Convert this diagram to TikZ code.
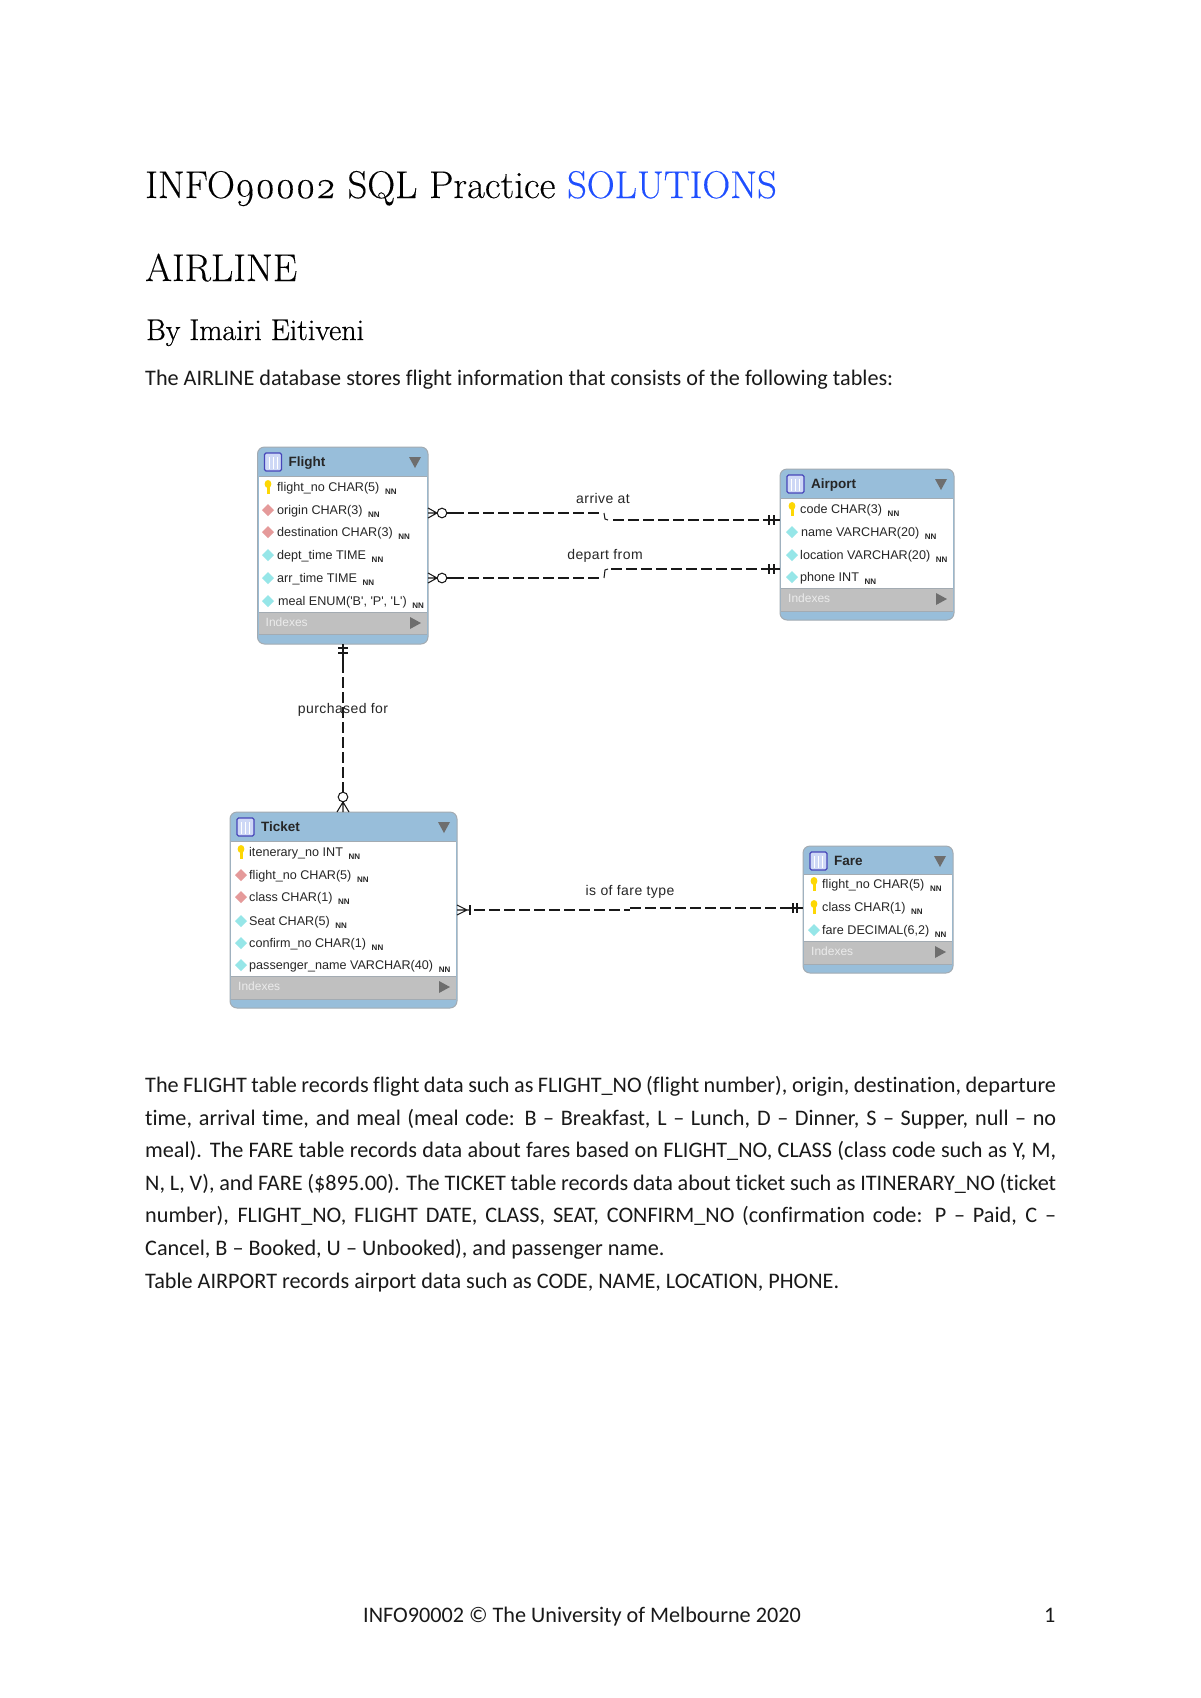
\documentclass[tikz,border=0pt]{standalone}
\usepackage{fontspec}
\setmainfont{Carlito}[Ligatures=NoCommon]
\newfontfamily\headfont{Latin Modern Roman}[Numbers=OldStyle,FakeBold=0.25]
\newfontfamily\byfont{Latin Modern Roman}[FakeBold=0.7]
\newfontfamily\erfont{Liberation Sans}
\newfontfamily\lblfont{Liberation Sans}[LetterSpace=3]
\definecolor{hdr}{HTML}{98BEDA}
\definecolor{idx}{HTML}{C0C0C0}
\definecolor{edge}{HTML}{A3ABB2}
\definecolor{tri}{HTML}{6E6E6E}
\definecolor{solblue}{HTML}{1F4FFF}
\tikzset{
  x=1pt,y=-1pt,
  ertable/.style={draw=edge,line width=1pt,fill=hdr,rounded corners=7pt,inner sep=0pt,outer sep=0pt,anchor=north west},
  rowtext/.style={anchor=base west,inner sep=0pt,font=\erfont\fontsize{12.6}{14}\selectfont,text=black!85},
  titletext/.style={anchor=base west,inner sep=0pt,font=\erfont\bfseries\fontsize{13.5}{15}\selectfont,text=black!85},
  idxtext/.style={anchor=base west,inner sep=0pt,font=\erfont\fontsize{12}{14}\selectfont,text=white!92!black},
  linklabel/.style={anchor=base,inner sep=0pt,font=\lblfont\fontsize{14}{16}\selectfont,text=black!85},
  conn/.style={draw=black!90,line width=1.05pt,dash pattern=on 11pt off 4pt},
  connsolid/.style={draw=black!90,line width=1.05pt},
  heading/.style={anchor=base west,inner sep=0pt,font=\headfont\fontsize{38.7}{44}\selectfont},
  byline/.style={anchor=base west,inner sep=0pt,font=\byfont\fontsize{30}{34}\selectfont},
  bodyline/.style={anchor=base west,inner sep=0pt,font=\fontsize{22.2}{26}\selectfont,text=black!90},
}
% name, left, top, right, bottom, header bottom, rows bottom, indexes bottom, title
\newcommand{\erbox}[9]{%
  \node[ertable,minimum width={(#4-#2)*1pt},minimum height={(#5-#3)*1pt}] (#1) at (#2,#3) {};
  \fill[white] (#2+1,#6) rectangle (#4-1,#7);
  \fill[idx] (#2+1,#7) rectangle (#4-1,#8);
  \draw[edge,line width=1pt] (#2+1,#6) -- (#4-1,#6) (#2+1,#7) -- (#4-1,#7) (#2+1,#8) -- (#4-1,#8);
  % table icon
  \draw[fill=blue!12!white!75!hdr,draw=blue!45!gray,line width=1.1pt,rounded corners=1.5pt] (#2+7,#3+6) rectangle (#2+24,#3+24);
  \draw[white,line width=0.8pt] (#2+11.5,#3+10) -- (#2+11.5,#3+22) (#2+15.5,#3+10) -- (#2+15.5,#3+22) (#2+19.5,#3+10) -- (#2+19.5,#3+22);
  % collapse triangles
  \fill[tri] (#4-19,#3+10) -- (#4-7,#3+10) -- (#4-13,#3+21) -- cycle;
  \fill[tri] (#4-18,#7+5) -- (#4-7,#7+11) -- (#4-18,#7+17) -- cycle;
  \node[titletext] (#1title) at (#2+31,#3+19) {#9};
  \node[idxtext] (#1idx) at (#2+8,#7+14.5) {Indexes};
}
\newcommand{\iconkey}[2]{%
  \fill[yellow!75!orange] (#1,#2-3) ellipse (3.4pt and 4pt);
  \fill[yellow!75!orange] (#1-1.5,#2-1) rectangle (#1+1.5,#2+7);
}
\newcommand{\icondiamond}[3]{%
  \fill[#3] (#1-6,#2) -- (#1,#2-6) -- (#1+6,#2) -- (#1,#2+6) -- cycle;
}
\definecolor{fkpink}{HTML}{E59A9A}
\definecolor{attcyan}{HTML}{96E6E8}
\newcommand{\nnmark}{\,\raisebox{-3pt}{\fontsize{8}{9}\selectfont\bfseries NN}}
% name, icon x, text x, centre y, text
\newcommand{\rowkey}[5]{\iconkey{#2}{#4}\node[rowtext] (#1) at (#3,#4+4) {#5\ \nnmark};}
\newcommand{\rowfk}[5]{\icondiamond{#2}{#4}{fkpink}\node[rowtext] (#1) at (#3,#4+4) {#5\ \nnmark};}
\newcommand{\rowat}[5]{\icondiamond{#2}{#4}{attcyan}\node[rowtext] (#1) at (#3,#4+4) {#5\ \nnmark};}
\begin{document}
\begin{tikzpicture}
\useasboundingbox (0,0) rectangle (1200,1698);
\fill[white] (0,0) rectangle (1200,1698);

% page text
\node[heading] (title) at (145,198) {INFO90002 SQL Practice \textcolor{solblue}{SOLUTIONS}};
\node[heading] (airline) at (145,281) {AIRLINE};
\node[byline] (byl) at (146,340) {By Imairi Eitiveni};
\node[bodyline] (intro) at (145,385) {The AIRLINE database stores flight information that consists of the following tables:};

\node[bodyline] (p1) at (145,1092) {\hbox to 911pt{The FLIGHT table records flight data such as FLIGHT\_NO (flight number), origin, destination, departure}};
\node[bodyline] (p2) at (145,1125) {\hbox to 911pt{time, arrival time, and meal (meal code: B – Breakfast, L – Lunch, D – Dinner, S – Supper, null – no}};
\node[bodyline] (p3) at (145,1157) {\hbox to 911pt{meal). The FARE table records data about fares based on FLIGHT\_NO, CLASS (class code such as Y, M,}};
\node[bodyline] (p4) at (145,1190) {\hbox to 911pt{N, L, V), and FARE (\$895.00). The TICKET table records data about ticket such as ITINERARY\_NO (ticket}};
\node[bodyline] (p5) at (145,1222) {\hbox to 911pt{number), FLIGHT\_NO, FLIGHT DATE, CLASS, SEAT, CONFIRM\_NO (confirmation code: P – Paid, C –}};
\node[bodyline] (p6) at (145,1255) {Cancel, B – Booked, U – Unbooked), and passenger name.};
\node[bodyline] (p7) at (145,1288) {Table AIRPORT records airport data such as CODE, NAME, LOCATION, PHONE.};
\node[bodyline] (foot) at (363,1622) {INFO90002 © The University of Melbourne 2020};
\node[bodyline] (pageno) at (1044,1622) {1};

% tables
\erbox{flight}{257.5}{447}{428}{644}{476}{612}{634}{Flight}
\rowkey{f1}{268}{277}{487}{flight\_no CHAR(5)}
\rowfk{f2}{268}{277}{510}{origin CHAR(3)}
\rowfk{f3}{268}{277}{532}{destination CHAR(3)}
\rowat{f4}{268}{277}{555}{dept\_time TIME}
\rowat{f5}{268}{277}{578}{arr\_time TIME}
\rowat{f6}{268}{278}{601}{meal ENUM('B', 'P', 'L')}

\erbox{airport}{780}{469}{954}{620}{498}{588}{611}{Airport}
\rowkey{a1}{792}{800}{509}{code CHAR(3)}
\rowat{a2}{792}{801}{532}{name VARCHAR(20)}
\rowat{a3}{792}{800}{555}{location VARCHAR(20)}
\rowat{a4}{792}{800}{577}{phone INT}

\erbox{ticket}{230}{812}{457}{1008}{841}{976}{999}{Ticket}
\rowkey{t1}{241}{249}{852}{itenerary\_no INT}
\rowfk{t2}{241}{249}{875}{flight\_no CHAR(5)}
\rowfk{t3}{241}{249}{897}{class CHAR(1)}
\rowat{t4}{241}{249}{921}{Seat CHAR(5)}
\rowat{t5}{241}{249}{943}{confirm\_no CHAR(1)}
\rowat{t6}{241}{249}{965}{passenger\_name VARCHAR(40)}

\erbox{fare}{803}{846}{953}{973}{874}{941}{964}{Fare}
\rowkey{r1}{814}{822}{884}{flight\_no CHAR(5)}
\rowkey{r2}{814}{822}{907}{class CHAR(1)}
\rowat{r3}{814}{822}{930}{fare DECIMAL(6,2)}

% link anchors
\coordinate (arrS) at (flight.east |- 0,513);
\coordinate (arrE) at (airport.west |- 0,520);
\coordinate (depS) at (flight.east |- 0,578);
\coordinate (depE) at (airport.west |- 0,569);
\coordinate (purS) at (flight.south -| 343,0);
\coordinate (purE) at (ticket.north -| 343,0);
\coordinate (farS) at (ticket.east |- 0,910);
\coordinate (farE) at (fare.west |- 0,908);

% arrive at
\draw[conn] (453,513) -- (602,513);
\draw[connsolid] (447,513) -- (453,513);
\draw[connsolid] (604,513) -- (605,519) -- (608,520);
\draw[conn] (613,520) -- (765,520);
\draw[connsolid] (765,520) -- (arrE);
\draw[connsolid] (769,515) -- (769,525) (774,515) -- (774,525);
\draw[connsolid] (arrS) ++(0,-5) -- (437,513) (arrS) -- (437,513) (arrS) ++(0,5) -- (437,513);
\draw[connsolid] (442,513) circle (4.8pt);
\node[linklabel] (arrL) at (603,503) {arrive at};

% depart from
\draw[conn] (453,578) -- (600,578);
\draw[connsolid] (447,578) -- (453,578);
\draw[connsolid] (604,578) -- (605,570) -- (608,569);
\draw[conn] (611,569) -- (765,569);
\draw[connsolid] (765,569) -- (depE);
\draw[connsolid] (769,564) -- (769,574) (774,564) -- (774,574);
\draw[connsolid] (depS) ++(0,-5) -- (437,578) (depS) -- (437,578) (depS) ++(0,5) -- (437,578);
\draw[connsolid] (442,578) circle (4.8pt);
\node[linklabel] (depL) at (605,559) {depart from};

% purchased for
\draw[connsolid] (purS) -- (343,662);
\draw[connsolid] (338,648) -- (348,648) (338,653) -- (348,653);
\draw[conn] (343,662) -- (343,792);
\draw[connsolid] (343,802) -- (337,812) (343,802) -- (343,812) (343,802) -- (349,812);
\draw[connsolid] (343,797) circle (4.8pt);
\node[linklabel] (purL) at (343,713) {purchased for};

% is of fare type
\draw[connsolid] (farS) ++(0,-5) -- (467,910) (farS) -- (470,910) (farS) ++(0,5) -- (467,910);
\draw[connsolid] (470,905) -- (470,915);
\draw[conn] (474,910) -- (630,910);
\draw[conn] (630,908) -- (789,908);
\draw[connsolid] (789,908) -- (farE);
\draw[connsolid] (793,903) -- (793,913) (797,903) -- (797,913);
\node[linklabel] (farL) at (630,895) {is of fare type};
\end{tikzpicture}
\end{document}
